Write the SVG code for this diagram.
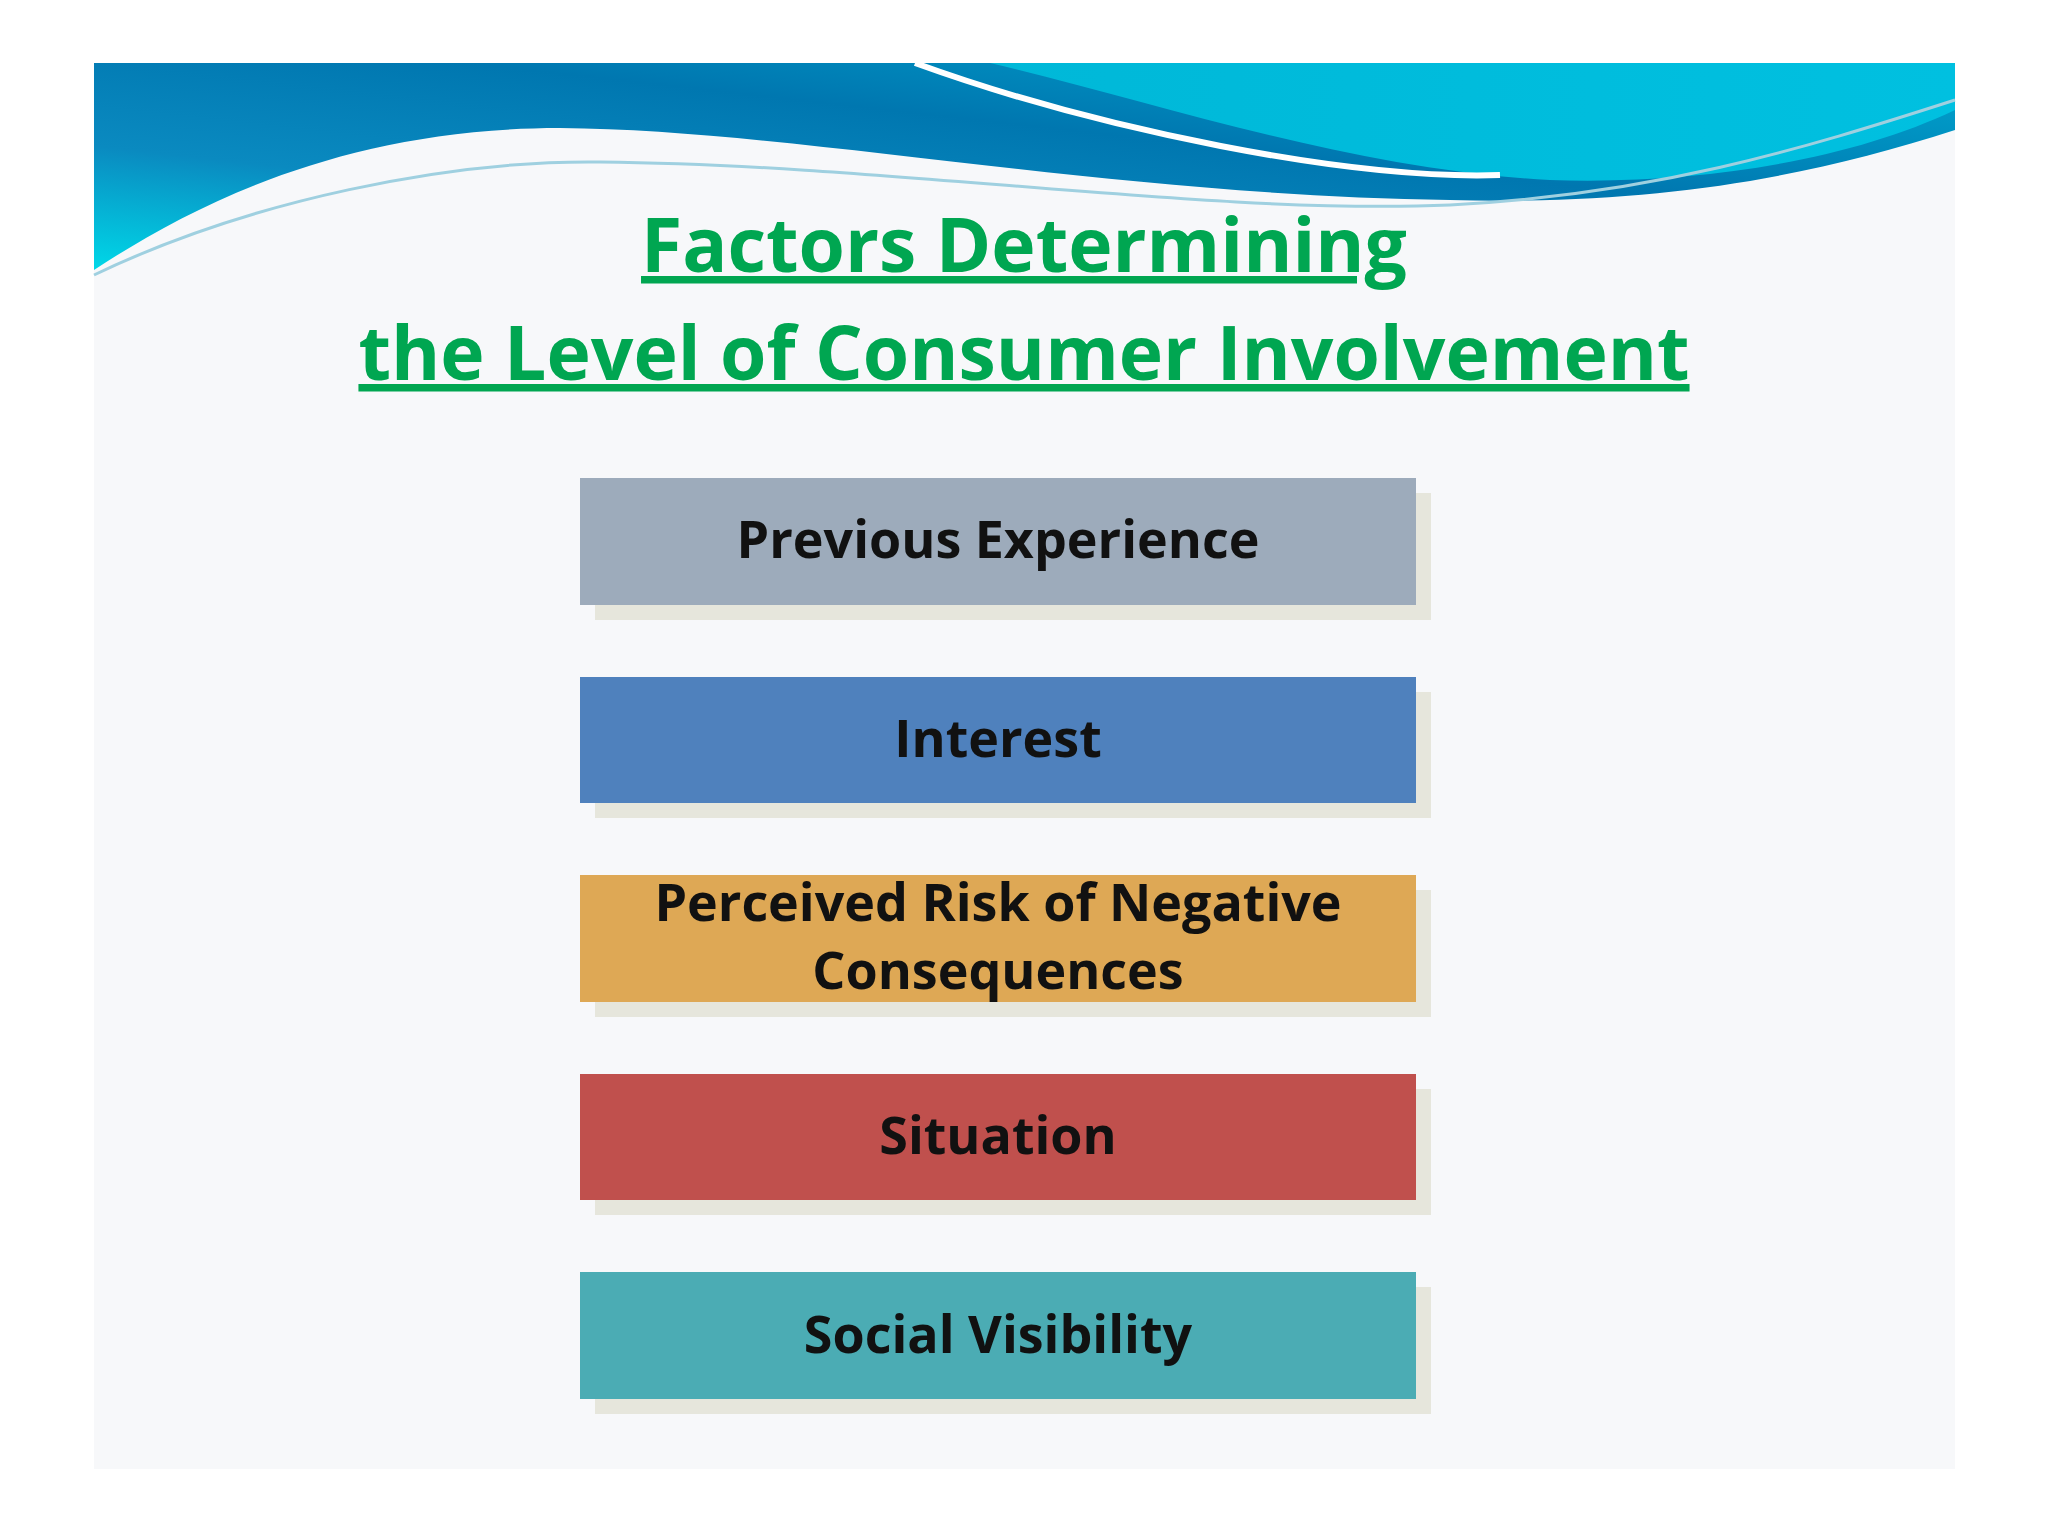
<svg xmlns="http://www.w3.org/2000/svg" width="2048" height="1536" viewBox="0 0 2048 1536">
<defs>
<style>
.t{font-family:"Open Sans","Noto Sans",sans-serif;font-weight:bold;fill:#00a651;font-size:75px;text-anchor:middle;text-decoration:underline}
.b{font-family:"Open Sans","Noto Sans",sans-serif;font-weight:bold;fill:#111;font-size:52px;text-anchor:middle}
.sh{fill:#e6e6dc}
</style>
<linearGradient id="w" x1="0" y1="1" x2="1" y2="0">
<stop offset="0" stop-color="#00d8e8"/><stop offset="0.3" stop-color="#0a8ac0"/><stop offset="0.6" stop-color="#0077b0"/><stop offset="1" stop-color="#00a8d0"/>
</linearGradient>
<linearGradient id="w2" x1="0" y1="0" x2="1" y2="0">
<stop offset="0" stop-color="#00b8d8"/><stop offset="1" stop-color="#00c0e0"/>
</linearGradient>
</defs>
<rect width="2048" height="1536" fill="#fff"/>
<rect x="94" y="63" width="1861" height="1406" fill="#f7f8fa"/>
<path d="M94 63 H1955 V130 C1800 180 1650 205 1450 200 C1100 195 800 130 560 128 C350 128 200 200 94 270 Z" fill="url(#w)"/>
<path d="M990 63 H1955 V110 C1850 160 1700 185 1550 180 C1350 170 1150 100 990 63 Z" fill="url(#w2)"/>
<path d="M915 63 C1100 130 1350 180 1500 175" stroke="#fff" stroke-width="6" fill="none"/>
<path d="M94 275 C250 200 450 160 600 162 C900 165 1200 215 1450 205 C1650 195 1800 150 1955 100" stroke="#9fd0e0" stroke-width="3" fill="none"/>
<g id="title">
<text class="t" x="1024" y="272">Factors Determining</text>
<text class="t" x="1024" y="380">the Level of Consumer Involvement</text>
</g>
<g id="n1"><rect class="sh" x="595" y="493" width="836" height="127"/><rect x="580" y="478" width="836" height="127" fill="#9dabbb"/><text class="b" x="998" y="558">Previous Experience</text></g>
<g id="n2"><rect class="sh" x="595" y="692" width="836" height="126"/><rect x="580" y="677" width="836" height="126" fill="#4f81bd"/><text class="b" x="998" y="757">Interest</text></g>
<g id="n3"><rect class="sh" x="595" y="890" width="836" height="127"/><rect x="580" y="875" width="836" height="127" fill="#dea855"/><text class="b" x="998" y="921">Perceived Risk of Negative</text><text class="b" x="998" y="989">Consequences</text></g>
<g id="n4"><rect class="sh" x="595" y="1089" width="836" height="126"/><rect x="580" y="1074" width="836" height="126" fill="#c0504d"/><text class="b" x="998" y="1154">Situation</text></g>
<g id="n5"><rect class="sh" x="595" y="1287" width="836" height="127"/><rect x="580" y="1272" width="836" height="127" fill="#4bacb4"/><text class="b" x="998" y="1353">Social Visibility</text></g>
<g id="connectors"/>
</svg>
